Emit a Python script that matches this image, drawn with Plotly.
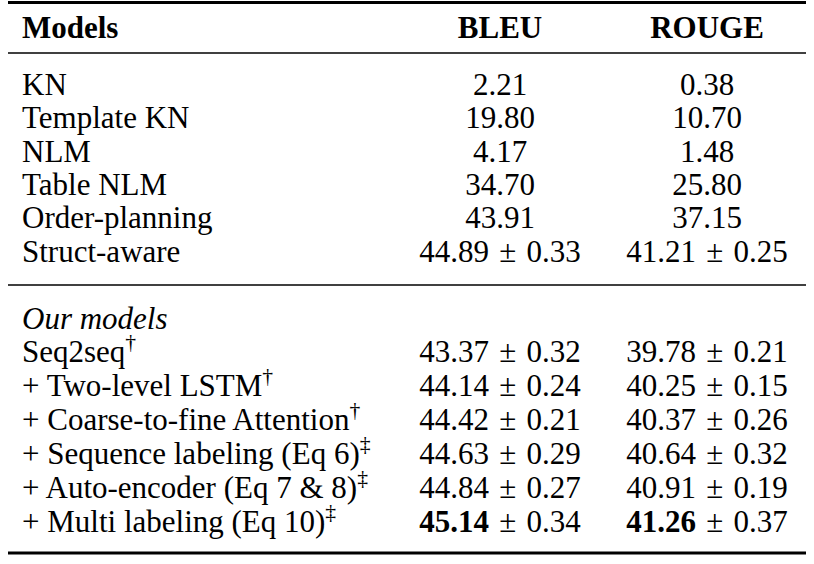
import plotly.graph_objects as go

# table values
columns = ["Models", "BLEU", "ROUGE"]

base_models = ["KN", "Template KN", "NLM", "Table NLM", "Order-planning", "Struct-aware"]
base_bleu = [2.21, 19.80, 4.17, 34.70, 43.91, 44.89]
base_bleu_std = [None, None, None, None, None, 0.33]
base_rouge = [0.38, 10.70, 1.48, 25.80, 37.15, 41.21]
base_rouge_std = [None, None, None, None, None, 0.25]

group_title = "Our models"
our_models = ["Seq2seq", "+ Two-level LSTM", "+ Coarse-to-fine Attention",
              "+ Sequence labeling (Eq 6)", "+ Auto-encoder (Eq 7 & 8)",
              "+ Multi labeling (Eq 10)"]
our_marks = ["\u2020", "\u2020", "\u2020", "\u2021", "\u2021", "\u2021"]
our_bleu = [43.37, 44.14, 44.42, 44.63, 44.84, 45.14]
our_bleu_std = [0.32, 0.24, 0.21, 0.29, 0.27, 0.34]
our_rouge = [39.78, 40.25, 40.37, 40.64, 40.91, 41.26]
our_rouge_std = [0.21, 0.15, 0.26, 0.32, 0.19, 0.37]

W, H = 814, 564
FONT = "Liberation Serif"
SIZE = 31
X_MODEL, X_BLEU, X_ROUGE = 22, 500, 707
Y_HEAD = 30
Y_BASE = [87 + i * 33.4 for i in range(6)]
Y_GROUP = 321
Y_OURS = [354 + i * 34 for i in range(6)]
PM = " \u200a\u00b1\u200a "  # a bit wider, like latex $\pm$


def fmt(v, s, bold=False):
    txt = "%.2f" % v
    if bold:
        txt = "<b>%s</b>" % txt
    if s is not None:
        txt += PM + "%.2f" % s
    return txt


best_bleu = max(base_bleu + our_bleu)
best_rouge = max(base_rouge + our_rouge)

left_text = ["<b>%s</b>" % columns[0]] + base_models + ["<i>%s</i>" % group_title]
left_text += [m + "<sup>%s</sup>" % k for m, k in zip(our_models, our_marks)]
left_y = [Y_HEAD] + Y_BASE + [Y_GROUP] + Y_OURS

bleu_text = ["<b>%s</b>" % columns[1]]
rouge_text = ["<b>%s</b>" % columns[2]]
for v, s in zip(base_bleu + our_bleu, base_bleu_std + our_bleu_std):
    bleu_text.append(fmt(v, s, v == best_bleu))
for v, s in zip(base_rouge + our_rouge, base_rouge_std + our_rouge_std):
    rouge_text.append(fmt(v, s, v == best_rouge))
num_y = [Y_HEAD] + Y_BASE + Y_OURS

fig = go.Figure()
fig.add_trace(go.Scatter(x=[X_MODEL] * len(left_y), y=left_y, text=left_text,
                         mode="text", textposition="middle right",
                         textfont=dict(family=FONT, size=SIZE, color="black"),
                         hoverinfo="skip"))
fig.add_trace(go.Scatter(x=[X_BLEU] * len(num_y), y=num_y, text=bleu_text,
                         mode="text", textposition="middle center",
                         textfont=dict(family=FONT, size=SIZE, color="black"),
                         hoverinfo="skip"))
fig.add_trace(go.Scatter(x=[X_ROUGE] * len(num_y), y=num_y, text=rouge_text,
                         mode="text", textposition="middle center",
                         textfont=dict(family=FONT, size=SIZE, color="black"),
                         hoverinfo="skip"))

# booktabs style rules
for y, w in [(2.5, 3), (53, 1.6), (285, 1.6), (553, 3)]:
    fig.add_shape(type="line", x0=8, x1=806, y0=y, y1=y,
                  line=dict(color="black", width=w))

fig.update_layout(
    width=W, height=H,
    margin=dict(l=0, r=0, t=0, b=0),
    paper_bgcolor="white", plot_bgcolor="white",
    showlegend=False,
    font=dict(family=FONT),
    xaxis=dict(range=[0, W], visible=False, fixedrange=True),
    yaxis=dict(range=[H, 0], visible=False, fixedrange=True),
)
fig.write_html("out.html", post_script="document.body.style.margin='0px';",
               config={"displayModeBar": False})
